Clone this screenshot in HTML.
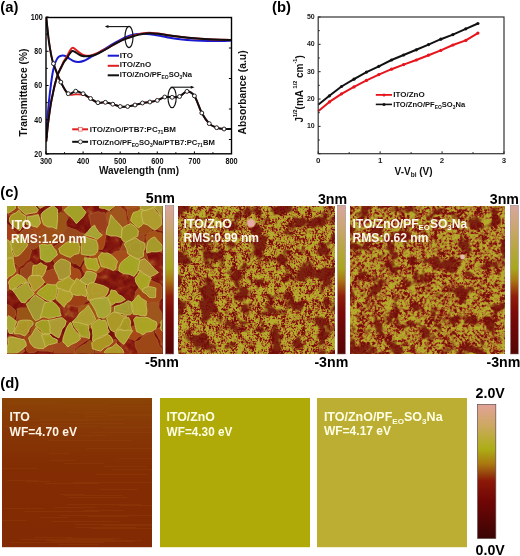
<!DOCTYPE html>
<html><head><meta charset="utf-8"><title>Figure</title>
<style>
html,body{margin:0;padding:0;background:#fff;}
body{width:520px;height:556px;overflow:hidden;}
svg{display:block;}
text{font-family:"Liberation Sans",Arial,sans-serif;font-weight:bold;}
.lab{font-size:14.8px;fill:#000;}
.tk{font-size:8.3px;fill:#111;}
.tk2{font-size:7.3px;fill:#222;}
.axl{font-size:10px;fill:#111;}
.axl2{font-size:9.3px;fill:#111;}
.axl3{font-size:9.3px;fill:#111;}
.lg{font-size:8px;fill:#111;}
.sub{font-size:65%;}
.sub2{font-size:65%;}
.sup{font-size:55%;}
.cb{font-size:14.2px;fill:#000;}
.wl{font-size:12.3px;fill:#fff8ee;}
.wd{font-size:12.3px;fill:#fff4e6;}
.wd2{font-size:12.3px;fill:#ffffe6;}
</style></head>
<body>
<svg width="520" height="556" viewBox="0 0 520 556">
<rect width="520" height="556" fill="#fff"/>
<g id="pa">
<text x="0.3" y="12" class="lab">(a)</text>
<clipPath id="clipa"><rect x="46" y="17" width="185.5" height="137"/></clipPath>
<g clip-path="url(#clipa)" fill="none" stroke-linejoin="round" stroke-linecap="round">
<path d="M46.30,134.00 C46.50,131.33 47.05,123.50 47.50,118.00 C47.95,112.50 48.42,106.67 49.00,101.00 C49.58,95.33 50.33,89.00 51.00,84.00 C51.67,79.00 52.25,74.67 53.00,71.00 C53.75,67.33 54.58,64.33 55.50,62.00 C56.42,59.67 57.33,58.08 58.50,57.00 C59.67,55.92 61.17,55.58 62.50,55.50 C63.83,55.42 65.25,55.92 66.50,56.50 C67.75,57.08 68.75,58.20 70.00,59.00 C71.25,59.80 72.58,60.80 74.00,61.30 C75.42,61.80 76.83,62.08 78.50,62.00 C80.17,61.92 82.08,61.55 84.00,60.80 C85.92,60.05 87.72,58.75 90.00,57.50 C92.28,56.25 94.87,54.97 97.70,53.30 C100.53,51.63 103.78,49.43 107.00,47.50 C110.22,45.57 114.00,43.40 117.00,41.70 C120.00,40.00 122.17,38.50 125.00,37.30 C127.83,36.10 131.17,35.08 134.00,34.50 C136.83,33.92 139.33,33.85 142.00,33.80 C144.67,33.75 147.00,33.87 150.00,34.20 C153.00,34.53 156.67,35.20 160.00,35.80 C163.33,36.40 166.67,37.22 170.00,37.80 C173.33,38.38 175.83,38.85 180.00,39.30 C184.17,39.75 190.33,40.22 195.00,40.50 C199.67,40.78 203.83,40.92 208.00,41.00 C212.17,41.08 216.08,41.07 220.00,41.00 C223.92,40.93 229.58,40.67 231.50,40.60" stroke="#1a1ad0" stroke-width="2"/>
<path d="M46.30,141.00 C46.58,138.17 47.28,130.00 48.00,124.00 C48.72,118.00 49.77,110.17 50.60,105.00 C51.43,99.83 52.27,96.50 53.00,93.00 C53.73,89.50 54.17,87.17 55.00,84.00 C55.83,80.83 56.93,76.92 58.00,74.00 C59.07,71.08 60.40,68.67 61.40,66.50 C62.40,64.33 63.10,62.67 64.00,61.00 C64.90,59.33 65.88,58.08 66.80,56.50 C67.72,54.92 68.63,52.92 69.50,51.50 C70.37,50.08 71.17,48.48 72.00,48.00 C72.83,47.52 73.50,48.02 74.50,48.60 C75.50,49.18 76.75,50.52 78.00,51.50 C79.25,52.48 80.67,53.78 82.00,54.50 C83.33,55.22 84.33,55.68 86.00,55.80 C87.67,55.92 90.00,55.70 92.00,55.20 C94.00,54.70 96.00,53.67 98.00,52.80 C100.00,51.93 102.00,51.03 104.00,50.00 C106.00,48.97 107.83,47.80 110.00,46.60 C112.17,45.40 114.67,44.03 117.00,42.80 C119.33,41.57 121.67,40.25 124.00,39.20 C126.33,38.15 128.67,37.30 131.00,36.50 C133.33,35.70 135.50,34.98 138.00,34.40 C140.50,33.82 143.67,33.25 146.00,33.00 C148.33,32.75 150.00,32.82 152.00,32.90 C154.00,32.98 155.33,33.12 158.00,33.50 C160.67,33.88 164.50,34.68 168.00,35.20 C171.50,35.72 174.67,36.10 179.00,36.60 C183.33,37.10 189.10,37.77 194.00,38.20 C198.90,38.63 204.07,38.95 208.40,39.20 C212.73,39.45 216.15,39.57 220.00,39.70 C223.85,39.83 229.58,39.95 231.50,40.00" stroke="#e02020" stroke-width="2"/>
<path d="M46.30,141.00 C46.58,138.17 47.28,130.00 48.00,124.00 C48.72,118.00 49.77,110.17 50.60,105.00 C51.43,99.83 52.27,96.50 53.00,93.00 C53.73,89.50 54.17,87.17 55.00,84.00 C55.83,80.83 56.93,76.83 58.00,74.00 C59.07,71.17 60.40,69.00 61.40,67.00 C62.40,65.00 63.10,63.43 64.00,62.00 C64.90,60.57 65.88,59.73 66.80,58.40 C67.72,57.07 68.60,55.23 69.50,54.00 C70.40,52.77 71.28,51.37 72.20,51.00 C73.12,50.63 73.95,51.27 75.00,51.80 C76.05,52.33 77.28,53.50 78.50,54.20 C79.72,54.90 80.72,55.67 82.30,56.00 C83.88,56.33 86.08,56.33 88.00,56.20 C89.92,56.07 91.80,55.82 93.80,55.20 C95.80,54.58 97.75,53.62 100.00,52.50 C102.25,51.38 104.97,49.87 107.30,48.50 C109.63,47.13 111.75,45.58 114.00,44.30 C116.25,43.02 118.63,41.80 120.80,40.80 C122.97,39.80 124.77,39.10 127.00,38.30 C129.23,37.50 131.87,36.67 134.20,36.00 C136.53,35.33 138.43,34.77 141.00,34.30 C143.57,33.83 146.77,33.28 149.60,33.20 C152.43,33.12 154.93,33.45 158.00,33.80 C161.07,34.15 164.50,34.82 168.00,35.30 C171.50,35.78 174.67,36.20 179.00,36.70 C183.33,37.20 189.10,37.87 194.00,38.30 C198.90,38.73 204.07,39.05 208.40,39.30 C212.73,39.55 216.15,39.68 220.00,39.80 C223.85,39.92 229.58,39.97 231.50,40.00" stroke="#101010" stroke-width="2"/>
<path d="M46.30,17.20 C46.50,19.17 47.05,24.87 47.50,29.00 C47.95,33.13 48.42,37.83 49.00,42.00 C49.58,46.17 50.26,50.40 51.00,54.00 C51.74,57.60 51.78,58.92 53.42,63.60 C55.06,68.28 58.37,77.00 60.84,82.10 C63.31,87.20 65.79,92.17 68.26,94.20 C70.73,96.23 73.21,94.20 75.68,94.30 C78.15,94.40 80.63,94.10 83.10,94.80 C85.57,95.50 88.05,97.18 90.52,98.50 C92.99,99.82 95.47,102.07 97.94,102.70 C100.41,103.33 102.89,102.05 105.36,102.30 C107.83,102.55 110.31,103.50 112.78,104.20 C115.25,104.90 117.73,106.12 120.20,106.50 C122.67,106.88 125.15,106.75 127.62,106.50 C130.09,106.25 132.57,105.58 135.04,105.00 C137.51,104.42 139.99,103.50 142.46,103.00 C144.93,102.50 147.41,102.43 149.88,102.00 C152.35,101.57 154.83,101.23 157.30,100.40 C159.77,99.57 162.25,97.52 164.72,97.00 C167.19,96.48 169.67,97.38 172.14,97.30 C174.61,97.22 177.09,97.48 179.56,96.50 C182.03,95.52 184.51,91.50 186.98,91.40 C189.45,91.30 191.93,92.30 194.40,95.90 C196.87,99.50 199.35,108.38 201.82,113.00 C204.29,117.62 206.77,121.15 209.24,123.60 C211.71,126.05 214.19,126.80 216.66,127.70 C219.13,128.60 221.61,128.78 224.08,129.00 C226.55,129.22 230.26,129.00 231.50,129.00" stroke="#e02020" stroke-width="1.7"/>
<path d="M46.30,17.20 C46.50,19.17 47.05,24.87 47.50,29.00 C47.95,33.13 48.42,37.83 49.00,42.00 C49.58,46.17 50.26,50.40 51.00,54.00 C51.74,57.60 51.78,58.92 53.42,63.60 C55.06,68.28 58.37,77.08 60.84,82.10 C63.31,87.12 65.79,92.18 68.26,93.70 C70.73,95.22 73.21,91.20 75.68,91.20 C78.15,91.20 80.63,92.48 83.10,93.70 C85.57,94.92 88.05,97.00 90.52,98.50 C92.99,100.00 95.47,102.07 97.94,102.70 C100.41,103.33 102.89,102.05 105.36,102.30 C107.83,102.55 110.31,103.50 112.78,104.20 C115.25,104.90 117.73,106.12 120.20,106.50 C122.67,106.88 125.15,106.75 127.62,106.50 C130.09,106.25 132.57,105.58 135.04,105.00 C137.51,104.42 139.99,103.50 142.46,103.00 C144.93,102.50 147.41,102.43 149.88,102.00 C152.35,101.57 154.83,101.23 157.30,100.40 C159.77,99.57 162.25,97.52 164.72,97.00 C167.19,96.48 169.67,97.38 172.14,97.30 C174.61,97.22 177.09,97.48 179.56,96.50 C182.03,95.52 184.51,91.50 186.98,91.40 C189.45,91.30 191.93,92.30 194.40,95.90 C196.87,99.50 199.35,108.38 201.82,113.00 C204.29,117.62 206.77,121.15 209.24,123.60 C211.71,126.05 214.19,126.80 216.66,127.70 C219.13,128.60 221.61,128.78 224.08,129.00 C226.55,129.22 230.26,129.00 231.50,129.00" stroke="#101010" stroke-width="2"/>
</g>
<circle cx="53.42" cy="63.60" r="1.95" fill="#fff" stroke="#222" stroke-width="1"/>
<circle cx="60.84" cy="82.10" r="1.95" fill="#fff" stroke="#222" stroke-width="1"/>
<circle cx="68.26" cy="93.70" r="1.95" fill="#fff" stroke="#222" stroke-width="1"/>
<circle cx="75.68" cy="91.20" r="1.95" fill="#fff" stroke="#222" stroke-width="1"/>
<circle cx="83.10" cy="93.70" r="1.95" fill="#fff" stroke="#222" stroke-width="1"/>
<circle cx="90.52" cy="98.50" r="1.95" fill="#fff" stroke="#222" stroke-width="1"/>
<circle cx="97.94" cy="102.70" r="1.95" fill="#fff" stroke="#222" stroke-width="1"/>
<circle cx="105.36" cy="102.30" r="1.95" fill="#fff" stroke="#222" stroke-width="1"/>
<circle cx="112.78" cy="104.20" r="1.95" fill="#fff" stroke="#222" stroke-width="1"/>
<circle cx="120.20" cy="106.50" r="1.95" fill="#fff" stroke="#222" stroke-width="1"/>
<circle cx="127.62" cy="106.50" r="1.95" fill="#fff" stroke="#222" stroke-width="1"/>
<circle cx="135.04" cy="105.00" r="1.95" fill="#fff" stroke="#222" stroke-width="1"/>
<circle cx="142.46" cy="103.00" r="1.95" fill="#fff" stroke="#222" stroke-width="1"/>
<circle cx="149.88" cy="102.00" r="1.95" fill="#fff" stroke="#222" stroke-width="1"/>
<circle cx="157.30" cy="100.40" r="1.95" fill="#fff" stroke="#222" stroke-width="1"/>
<circle cx="164.72" cy="97.00" r="1.95" fill="#fff" stroke="#222" stroke-width="1"/>
<circle cx="172.14" cy="97.30" r="1.95" fill="#fff" stroke="#222" stroke-width="1"/>
<circle cx="179.56" cy="96.50" r="1.95" fill="#fff" stroke="#222" stroke-width="1"/>
<circle cx="186.98" cy="91.40" r="1.95" fill="#fff" stroke="#222" stroke-width="1"/>
<circle cx="194.40" cy="95.90" r="1.95" fill="#fff" stroke="#222" stroke-width="1"/>
<circle cx="201.82" cy="113.00" r="1.95" fill="#fff" stroke="#222" stroke-width="1"/>
<circle cx="209.24" cy="123.60" r="1.95" fill="#fff" stroke="#222" stroke-width="1"/>
<circle cx="216.66" cy="127.70" r="1.95" fill="#fff" stroke="#222" stroke-width="1"/>
<circle cx="224.08" cy="129.00" r="1.95" fill="#fff" stroke="#222" stroke-width="1"/>
<rect x="46" y="17.5" width="185.5" height="136.3" fill="none" stroke="#000" stroke-width="1.4"/>
<path d="M46.00,154.0 v-2.6 M64.55,154.0 v-1.8 M83.10,154.0 v-2.6 M101.65,154.0 v-1.8 M120.20,154.0 v-2.6 M138.75,154.0 v-1.8 M157.30,154.0 v-2.6 M175.85,154.0 v-1.8 M194.40,154.0 v-2.6 M212.95,154.0 v-1.8 M231.50,154.0 v-2.6 M46.0,154.00 h2.6 M46.0,136.88 h1.8 M46.0,119.75 h2.6 M46.0,102.62 h1.8 M46.0,85.50 h2.6 M46.0,68.38 h1.8 M46.0,51.25 h2.6 M46.0,34.12 h1.8 M46.0,17.00 h2.6 M231.5,48 h-2.6 M231.5,78.5 h-2.6 M231.5,109 h-2.6 M231.5,139.5 h-2.6" stroke="#000" stroke-width="1" fill="none"/>
<text x="39.90" y="163.7" class="tk" textLength="12.3" lengthAdjust="spacingAndGlyphs">300</text>
<text x="77.00" y="163.7" class="tk" textLength="12.3" lengthAdjust="spacingAndGlyphs">400</text>
<text x="114.10" y="163.7" class="tk" textLength="12.3" lengthAdjust="spacingAndGlyphs">500</text>
<text x="151.20" y="163.7" class="tk" textLength="12.3" lengthAdjust="spacingAndGlyphs">600</text>
<text x="188.30" y="163.7" class="tk" textLength="12.3" lengthAdjust="spacingAndGlyphs">700</text>
<text x="225.40" y="163.7" class="tk" textLength="12.3" lengthAdjust="spacingAndGlyphs">800</text>
<text x="34.30" y="156.80" class="tk" textLength="7.8" lengthAdjust="spacingAndGlyphs">20</text>
<text x="34.30" y="122.55" class="tk" textLength="7.8" lengthAdjust="spacingAndGlyphs">40</text>
<text x="34.30" y="88.30" class="tk" textLength="7.8" lengthAdjust="spacingAndGlyphs">60</text>
<text x="34.30" y="54.05" class="tk" textLength="7.8" lengthAdjust="spacingAndGlyphs">80</text>
<text x="30.80" y="19.80" class="tk" textLength="12.1" lengthAdjust="spacingAndGlyphs">100</text>
<text x="139" y="174.3" class="axl" text-anchor="middle">Wavelength (nm)</text>
<text transform="translate(26.7,92.5) rotate(-90)" class="axl" text-anchor="middle" style="font-size:10.2px">Transmittance (%)</text>
<text transform="translate(246.1,92.5) rotate(-90)" class="axl2" text-anchor="middle" style="font-size:10.3px">Absorbance (a.u)</text>
<ellipse cx="129" cy="37" rx="4" ry="10.6" fill="none" stroke="#111" stroke-width="1.15"/>
<path d="M129.2,26.6 H106.5" stroke="#111" stroke-width="1.1" fill="none"/>
<path d="M104.8,26.6 l3.6,-1.5 v3 z" fill="#111"/>
<ellipse cx="172.1" cy="97.5" rx="4.1" ry="10.2" fill="none" stroke="#111" stroke-width="1.15"/>
<path d="M170.8,87.2 H192.5" stroke="#111" stroke-width="1.1" fill="none"/>
<path d="M194.4,87.2 l-3.6,-1.5 v3 z" fill="#111"/>
<path d="M107.7,55.7 H119" stroke="#1a1ad0" stroke-width="2"/>
<path d="M107.7,65.8 H119" stroke="#e02020" stroke-width="2"/>
<path d="M107.7,75.3 H119" stroke="#101010" stroke-width="2"/>
<text x="119.8" y="57.5" class="lg">ITO</text>
<text x="119.8" y="67.4" class="lg">ITO/ZnO</text>
<text x="119.8" y="77.2" class="lg" textLength="72.3" lengthAdjust="spacingAndGlyphs">ITO/ZnO/PF<tspan class="sub" dy="2">EO</tspan><tspan dy="-2">SO</tspan><tspan class="sub" dy="2">3</tspan><tspan dy="-2">Na</tspan></text>
<path d="M72.2,129.3 H88" stroke="#e02020" stroke-width="2"/>
<rect x="78.6" y="127.5" width="3.6" height="3.6" fill="#fff4f2" stroke="#e04040" stroke-width="0.6"/>
<path d="M72.2,141.8 H88" stroke="#101010" stroke-width="2"/>
<circle cx="80.4" cy="141.8" r="2" fill="#fff" stroke="#222" stroke-width="0.8"/>
<text x="89.8" y="131.8" class="lg">ITO/ZnO/PTB7:PC<tspan class="sub" dy="2">71</tspan><tspan dy="-2">BM</tspan></text>
<text x="89.8" y="144.6" class="lg" textLength="125" lengthAdjust="spacingAndGlyphs">ITO/ZnO/PF<tspan class="sub" dy="2">EO</tspan><tspan dy="-2">SO</tspan><tspan class="sub" dy="2">3</tspan><tspan dy="-2">Na/PTB7:PC</tspan><tspan class="sub" dy="2">71</tspan><tspan dy="-2">BM</tspan></text>
</g>
<g id="pb">
<text x="272" y="12" class="lab">(b)</text>
<polyline points="318.2,111.2 329.4,101.9 341.5,93.8 354,86.9 366.5,80.4 378.8,74.6 391.5,69.2 403.6,64.6 416.3,60 428.5,55.2 440.8,50.4 452.9,45 465.8,40.4 477.9,33.1" fill="none" stroke="#e8141c" stroke-width="2" stroke-linejoin="round"/>
<polyline points="318.2,104.8 329.4,95.8 341.5,86.5 354,79.2 366.5,72.1 378.8,66.3 391.5,60 403.6,55 416.3,49.8 428.5,44.6 440.8,39.2 452.9,34.6 465.8,28.8 477.9,23.5" fill="none" stroke="#111" stroke-width="2" stroke-linejoin="round"/>
<circle cx="329.4" cy="101.9" r="1.6" fill="#e8141c"/>
<circle cx="341.5" cy="93.8" r="1.6" fill="#e8141c"/>
<circle cx="354" cy="86.9" r="1.6" fill="#e8141c"/>
<circle cx="366.5" cy="80.4" r="1.6" fill="#e8141c"/>
<circle cx="378.8" cy="74.6" r="1.6" fill="#e8141c"/>
<circle cx="391.5" cy="69.2" r="1.6" fill="#e8141c"/>
<circle cx="403.6" cy="64.6" r="1.6" fill="#e8141c"/>
<circle cx="416.3" cy="60" r="1.6" fill="#e8141c"/>
<circle cx="428.5" cy="55.2" r="1.6" fill="#e8141c"/>
<circle cx="440.8" cy="50.4" r="1.6" fill="#e8141c"/>
<circle cx="452.9" cy="45" r="1.6" fill="#e8141c"/>
<circle cx="465.8" cy="40.4" r="1.6" fill="#e8141c"/>
<circle cx="477.9" cy="33.1" r="1.6" fill="#e8141c"/>
<circle cx="329.4" cy="95.8" r="1.6" fill="#111"/>
<circle cx="341.5" cy="86.5" r="1.6" fill="#111"/>
<circle cx="354" cy="79.2" r="1.6" fill="#111"/>
<circle cx="366.5" cy="72.1" r="1.6" fill="#111"/>
<circle cx="378.8" cy="66.3" r="1.6" fill="#111"/>
<circle cx="391.5" cy="60" r="1.6" fill="#111"/>
<circle cx="403.6" cy="55" r="1.6" fill="#111"/>
<circle cx="416.3" cy="49.8" r="1.6" fill="#111"/>
<circle cx="428.5" cy="44.6" r="1.6" fill="#111"/>
<circle cx="440.8" cy="39.2" r="1.6" fill="#111"/>
<circle cx="452.9" cy="34.6" r="1.6" fill="#111"/>
<circle cx="465.8" cy="28.8" r="1.6" fill="#111"/>
<circle cx="477.9" cy="23.5" r="1.6" fill="#111"/>
<rect x="318.2" y="17.0" width="185.80" height="136.70" fill="none" stroke="#333" stroke-width="1.2"/>
<path d="M318.20,153.7 v-2.4 M349.17,153.7 v-1.6 M380.13,153.7 v-2.4 M411.10,153.7 v-1.6 M442.07,153.7 v-2.4 M473.03,153.7 v-1.6 M504.00,153.7 v-2.4 M318.2,153.70 h2.4 M318.2,140.03 h1.6 M318.2,126.36 h2.4 M318.2,112.69 h1.6 M318.2,99.02 h2.4 M318.2,85.35 h1.6 M318.2,71.68 h2.4 M318.2,58.01 h1.6 M318.2,44.34 h2.4 M318.2,30.67 h1.6 M318.2,17.00 h2.4" stroke="#222" stroke-width="1" fill="none"/>
<text x="316.00" y="163.1" class="tk2" textLength="4.4" lengthAdjust="spacingAndGlyphs">0</text>
<text x="377.93" y="163.1" class="tk2" textLength="4.4" lengthAdjust="spacingAndGlyphs">1</text>
<text x="439.87" y="163.1" class="tk2" textLength="4.4" lengthAdjust="spacingAndGlyphs">2</text>
<text x="501.80" y="163.1" class="tk2" textLength="4.4" lengthAdjust="spacingAndGlyphs">3</text>
<text x="306.90" y="128.46" class="tk2" textLength="7.8" lengthAdjust="spacingAndGlyphs">10</text>
<text x="306.90" y="101.12" class="tk2" textLength="7.8" lengthAdjust="spacingAndGlyphs">20</text>
<text x="306.90" y="73.78" class="tk2" textLength="7.8" lengthAdjust="spacingAndGlyphs">30</text>
<text x="306.90" y="46.44" class="tk2" textLength="7.8" lengthAdjust="spacingAndGlyphs">40</text>
<text x="306.90" y="19.10" class="tk2" textLength="7.8" lengthAdjust="spacingAndGlyphs">50</text>
<text x="394.6" y="174.6" class="axl">V-V<tspan class="sub2" dy="2.6">bi</tspan><tspan dy="-2.6"> (V)</tspan></text>
<text transform="translate(303.3,122.6) rotate(-90)" class="axl3" style="font-size:10px">J<tspan class="sup" dy="-6">1/2</tspan><tspan dy="6">(mA</tspan><tspan class="sup" dy="-6"> 1/2</tspan><tspan dy="6"> cm</tspan><tspan class="sup" dy="-6">-1</tspan><tspan dy="6">)</tspan></text>
<path d="M375.8,94.9 H392" stroke="#e8141c" stroke-width="1.8"/><circle cx="384" cy="94.9" r="1.5" fill="#e8141c"/>
<path d="M375.8,104.4 H392" stroke="#111" stroke-width="1.6"/><circle cx="384" cy="104.4" r="1.5" fill="#111"/>
<text x="393.3" y="96.8" class="lg">ITO/ZnO</text>
<text x="393.3" y="106.5" class="lg" textLength="71.8" lengthAdjust="spacingAndGlyphs">ITO/ZnO/PF<tspan class="sub" dy="2">EO</tspan><tspan dy="-2">SO</tspan><tspan class="sub" dy="2">3</tspan><tspan dy="-2">Na</tspan></text>
</g>
<defs>
<filter id="f2" x="0" y="0" width="100%" height="100%" color-interpolation-filters="sRGB">
<feTurbulence type="fractalNoise" baseFrequency="0.55" numOctaves="2" seed="3" result="n1"/>
<feTurbulence type="fractalNoise" baseFrequency="0.16" numOctaves="2" seed="10" result="n1b"/>
<feComposite in="n1" in2="n1b" operator="arithmetic" k1="0" k2="0.55" k3="0.45" k4="0" result="n1c"/>
<feColorMatrix in="n1c" type="matrix" values="4.2 0 0 0 -1.47  4.2 0 0 0 -1.47  4.2 0 0 0 -1.47  0 0 0 0 1" result="g1"/>
<feComponentTransfer in="g1" result="sp">
<feFuncR type="table" tableValues="0.463 0.486 0.510 0.533 0.557 0.588 0.616 0.643 0.675 0.678 0.682 0.686 0.690 0.694 0.698 0.702 0.706"/>
<feFuncG type="table" tableValues="0.055 0.075 0.094 0.114 0.133 0.196 0.263 0.329 0.392 0.439 0.490 0.541 0.588 0.612 0.631 0.651 0.675"/>
<feFuncB type="table" tableValues="0.047 0.055 0.059 0.063 0.071 0.094 0.114 0.133 0.157 0.161 0.165 0.169 0.173 0.173 0.169 0.165 0.165"/>
</feComponentTransfer>
<feTurbulence type="fractalNoise" baseFrequency="0.06" numOctaves="3" seed="11" result="n2"/>
<feColorMatrix in="n2" type="matrix" values="0 0 0 0 0.439  0 0 0 0 0.047  0 0 0 0 0.039  -7 0 0 0 3.35" result="m0"/>
<feComponentTransfer in="m0" result="m"><feFuncA type="linear" slope="0.85" intercept="0"/></feComponentTransfer>
<feComposite in="m" in2="sp" operator="over" result="c"/>
<feGaussianBlur in="c" stdDeviation="0.5"/>
</filter>
<filter id="f3" x="0" y="0" width="100%" height="100%" color-interpolation-filters="sRGB">
<feTurbulence type="fractalNoise" baseFrequency="0.4" numOctaves="2" seed="5" result="n1"/>
<feTurbulence type="fractalNoise" baseFrequency="0.12" numOctaves="2" seed="12" result="n1b"/>
<feComposite in="n1" in2="n1b" operator="arithmetic" k1="0" k2="0.55" k3="0.45" k4="0" result="n1c"/>
<feColorMatrix in="n1c" type="matrix" values="3.6 0 0 0 -1.22  3.6 0 0 0 -1.22  3.6 0 0 0 -1.22  0 0 0 0 1" result="g1"/>
<feComponentTransfer in="g1" result="sp">
<feFuncR type="table" tableValues="0.463 0.486 0.510 0.533 0.557 0.588 0.616 0.643 0.675 0.678 0.682 0.686 0.690 0.694 0.698 0.702 0.706"/>
<feFuncG type="table" tableValues="0.055 0.075 0.094 0.114 0.133 0.196 0.263 0.329 0.392 0.439 0.490 0.541 0.588 0.612 0.631 0.651 0.675"/>
<feFuncB type="table" tableValues="0.047 0.055 0.059 0.063 0.071 0.094 0.114 0.133 0.157 0.161 0.165 0.169 0.173 0.173 0.169 0.165 0.165"/>
</feComponentTransfer>
<feTurbulence type="fractalNoise" baseFrequency="0.07" numOctaves="3" seed="21" result="n2"/>
<feColorMatrix in="n2" type="matrix" values="0 0 0 0 0.451  0 0 0 0 0.055  0 0 0 0 0.039  -7 0 0 0 3.3" result="m0"/>
<feComponentTransfer in="m0" result="m"><feFuncA type="linear" slope="0.85" intercept="0"/></feComponentTransfer>
<feComposite in="m" in2="sp" operator="over" result="c"/>
<feGaussianBlur in="c" stdDeviation="0.75"/>
</filter>
<filter id="f1" x="0" y="0" width="100%" height="100%" color-interpolation-filters="sRGB">
<feTurbulence type="fractalNoise" baseFrequency="0.15" numOctaves="2" seed="7" result="n1"/>
<feTurbulence type="fractalNoise" baseFrequency="0.05" numOctaves="3" seed="31" result="n2"/>
<feComposite in="n1" in2="n2" operator="arithmetic" k1="0" k2="0.5" k3="0.5" k4="0" result="m"/>
<feColorMatrix in="m" type="matrix" values="1.2 0 0 0 -0.45  1.2 0 0 0 -0.45  1.2 0 0 0 -0.45  0 0 0 0 1" result="g"/>
<feComponentTransfer in="g">
<feFuncR type="table" tableValues="0.463 0.486 0.510 0.533 0.557 0.588 0.616 0.643 0.675 0.678 0.682 0.686 0.690 0.694 0.698 0.702 0.706"/>
<feFuncG type="table" tableValues="0.055 0.075 0.094 0.114 0.133 0.196 0.263 0.329 0.392 0.439 0.490 0.541 0.588 0.612 0.631 0.651 0.675"/>
<feFuncB type="table" tableValues="0.047 0.055 0.059 0.063 0.071 0.094 0.114 0.133 0.157 0.161 0.165 0.169 0.173 0.173 0.169 0.165 0.165"/>
</feComponentTransfer>
<feGaussianBlur stdDeviation="0.6"/>
</filter>
<filter id="ftex" x="0" y="0" width="100%" height="100%" color-interpolation-filters="sRGB"><feTurbulence type="fractalNoise" baseFrequency="0.5" numOctaves="2" seed="9"/><feColorMatrix type="matrix" values="0 0 0 0 0  0 0 0 0 0  0 0 0 0 0  3 0 0 0 -1.2"/></filter>
<linearGradient id="cb" x1="0" y1="0" x2="0" y2="1"><stop offset="0.000" stop-color="#e2a298"/><stop offset="0.150" stop-color="#cda864"/><stop offset="0.330" stop-color="#acae16"/><stop offset="0.440" stop-color="#aa7a10"/><stop offset="0.510" stop-color="#98480e"/><stop offset="0.570" stop-color="#8c1808"/><stop offset="0.720" stop-color="#700605"/><stop offset="1.000" stop-color="#3a0404"/></linearGradient>
<linearGradient id="cbc" x1="0" y1="0" x2="0" y2="1"><stop offset="0.000" stop-color="#d8a69e"/><stop offset="0.150" stop-color="#caa670"/><stop offset="0.300" stop-color="#b6a63e"/><stop offset="0.420" stop-color="#a8a81e"/><stop offset="0.500" stop-color="#aa7a14"/><stop offset="0.550" stop-color="#a0500f"/><stop offset="0.610" stop-color="#911e0a"/><stop offset="0.720" stop-color="#7c0a08"/><stop offset="1.000" stop-color="#540505"/></linearGradient>
</defs>
<text x="0.3" y="196.5" class="lab">(c)</text>
<rect x="7" y="206" width="155.5" height="147.5" filter="url(#f1)"/>
<filter id="fb" x="-5%" y="-5%" width="110%" height="110%"><feGaussianBlur stdDeviation="0.6"/></filter>
<clipPath id="cc1"><rect x="7" y="206" width="155.5" height="147.5"/></clipPath>
<g clip-path="url(#cc1)"><g filter="url(#fb)">
<path d="M25.0,192.0 L28.2,196.0 L31.4,200.0 L34.9,203.6 L39.0,201.1 L42.8,198.1 L41.6,192.7 L42.7,187.2 L42.3,181.7 L42.5,176.3 L41.4,170.9 L37.6,174.7 L35.2,179.6 L31.2,183.3 L27.6,187.3Z" fill="#a64214" stroke="#a85a2a" stroke-width="0.8"/><path d="M6.1,211.6 L9.3,206.9 L13.2,202.6 L15.1,197.1 L18.4,192.4 L14.8,190.1 L11.8,187.0 L8.7,184.1 L6.2,188.8 L5.2,194.1 L2.5,198.6 L0.9,203.6 L-2.1,208.0 L1.5,210.2 L5.4,211.8Z" fill="#a54717" stroke="#a85a2a" stroke-width="0.8"/><path d="M7.5,212.5 L10.1,207.3 L13.3,202.7 L16.6,198.1 L19.8,193.3 L23.3,193.5 L27.3,196.7 L29.4,201.7 L33.2,205.1 L32.3,208.0 L31.8,211.0 L27.5,214.9 L22.5,214.8 L17.4,214.7 L12.6,212.5Z" fill="#9a4115" stroke="#a85a2a" stroke-width="0.8"/><path d="M79.2,195.9 L80.8,201.1 L80.8,206.6 L82.8,211.7 L77.9,213.1 L73.5,215.8 L68.5,216.8 L65.5,214.1 L62.8,211.1 L62.4,206.1 L60.3,201.7 L62.8,197.2 L66.3,193.3 L68.7,188.7 L72.8,190.3 L75.4,193.9Z" fill="#a4531a" stroke="#a85a2a" stroke-width="0.8"/><path d="M145.3,205.0 L143.5,199.9 L143.2,194.5 L138.9,192.6 L135.2,189.6 L131.1,187.3 L127.2,191.2 L123.4,195.2 L120.7,200.0 L120.7,203.4 L124.6,206.0 L127.2,209.8 L131.6,207.9 L136.5,208.1 L140.9,206.6Z" fill="#a3571d" stroke="#a85a2a" stroke-width="0.8"/><path d="M145.9,205.0 L144.6,199.7 L143.8,194.4 L147.7,191.3 L150.7,187.2 L155.4,185.0 L158.7,181.2 L159.7,187.0 L161.3,192.7 L163.5,198.1 L164.9,203.8 L160.6,207.3 L155.8,210.4 L150.8,207.9Z" fill="#985319" stroke="#a85a2a" stroke-width="0.8"/><path d="M4.4,214.5 L0.3,212.7 L-3.7,210.4 L-4.5,210.2 L-9.8,211.4 L-15.0,213.2 L-19.6,216.3 L-24.5,218.8 L-30.1,219.3 L-35.4,220.7 L-40.0,223.8 L-34.2,224.9 L-29.2,228.1 L-23.8,230.3 L-18.4,232.5 L-12.3,232.6 L-6.8,234.5 L-1.6,237.4 L1.5,232.5 L1.7,226.4 L4.6,221.4 L3.7,218.0Z" fill="#a1491b" stroke="#a85a2a" stroke-width="0.8"/><path d="M29.9,217.5 L34.2,213.6 L39.2,216.8 L44.8,218.9 L46.8,222.4 L46.7,226.3 L42.3,230.2 L37.7,234.0 L34.4,231.4 L32.5,227.7 L30.4,224.2 L29.7,220.9Z" fill="#a34914" stroke="#a85a2a" stroke-width="0.8"/><path d="M67.8,218.5 L66.0,222.2 L66.3,226.2 L64.8,230.2 L62.3,233.7 L57.3,231.5 L52.2,229.4 L47.6,226.4 L45.7,222.5 L45.5,218.1 L50.4,215.1 L56.2,214.2 L61.6,212.2 L65.3,214.7Z" fill="#9a5418" stroke="#a85a2a" stroke-width="0.8"/><path d="M98.4,211.5 L93.5,213.1 L88.6,214.9 L90.0,218.8 L90.4,222.9 L91.4,226.9 L96.2,229.2 L101.3,231.0 L106.3,233.0 L108.4,230.9 L107.2,226.4 L107.2,221.7 L106.4,217.1 L104.6,212.7 L101.4,212.9Z" fill="#9a401d" stroke="#a85a2a" stroke-width="0.8"/><path d="M106.5,212.4 L111.4,211.1 L114.9,207.2 L119.6,205.5 L122.6,208.4 L125.6,211.3 L126.4,216.8 L126.2,222.4 L128.1,227.7 L125.7,228.7 L120.7,230.4 L115.4,230.3 L110.2,230.5 L109.5,225.9 L107.3,221.6 L106.8,217.0Z" fill="#9f541b" stroke="#a85a2a" stroke-width="0.8"/><path d="M145.5,205.7 L140.8,206.4 L136.2,207.2 L131.8,208.8 L127.4,210.4 L127.5,215.0 L129.2,219.3 L130.2,223.7 L130.1,228.2 L134.6,231.0 L139.9,231.9 L144.3,234.8 L149.3,232.6 L153.2,228.8 L154.2,222.9 L154.3,216.9 L155.4,211.1 L151.0,207.5Z" fill="#9a4b14" stroke="#a85a2a" stroke-width="0.8"/><path d="M156.8,211.5 L161.7,208.9 L165.6,205.1 L165.9,205.1 L171.4,207.2 L176.2,211.0 L181.8,212.9 L180.6,217.8 L180.4,222.9 L175.7,224.6 L170.9,226.0 L166.9,229.2 L162.3,231.1 L158.4,230.0 L154.7,228.6 L155.9,223.0 L156.9,217.3Z" fill="#9d4f16" stroke="#a85a2a" stroke-width="0.8"/><path d="M5.3,221.6 L4.1,227.3 L0.6,232.1 L-1.0,237.7 L2.0,242.6 L2.8,248.3 L8.2,247.1 L12.6,243.8 L17.6,241.6 L18.1,235.7 L14.7,232.3 L12.1,228.3 L8.5,225.1Z" fill="#a34019" stroke="#a85a2a" stroke-width="0.8"/><path d="M18.5,235.7 L19.3,238.9 L18.0,241.8 L23.1,244.3 L28.1,247.3 L33.4,249.6 L36.0,247.9 L38.4,246.0 L36.8,240.7 L37.2,235.1 L34.7,231.3 L31.2,228.2 L29.0,224.1 L26.0,228.5 L21.3,231.3Z" fill="#9b491b" stroke="#a85a2a" stroke-width="0.8"/><path d="M61.5,233.8 L57.2,230.9 L52.2,229.3 L47.5,226.9 L44.2,229.4 L40.7,231.7 L38.0,235.0 L38.1,240.2 L39.1,245.2 L44.3,246.1 L49.6,246.3 L53.3,243.9 L57.3,242.0 L61.1,239.6Z" fill="#9e5117" stroke="#a85a2a" stroke-width="0.8"/><path d="M66.9,226.6 L71.6,228.5 L76.3,230.0 L80.5,233.0 L85.5,234.1 L85.4,238.9 L84.7,243.7 L79.4,243.3 L74.2,243.9 L69.0,245.0 L65.8,242.5 L62.7,239.9 L63.0,233.9 L65.4,230.5Z" fill="#98481c" stroke="#a85a2a" stroke-width="0.8"/><path d="M86.3,234.2 L88.8,231.3 L90.7,228.0 L95.7,230.5 L101.0,232.4 L106.2,234.4 L105.2,239.4 L104.6,244.5 L102.7,249.3 L97.6,249.9 L92.5,249.5 L88.7,246.9 L85.5,243.5 L85.7,238.9Z" fill="#a74718" stroke="#a85a2a" stroke-width="0.8"/><path d="M120.5,250.5 L124.1,252.8 L128.4,253.2 L132.2,254.9 L135.7,251.4 L140.4,249.5 L143.7,245.7 L144.0,244.7 L144.1,240.2 L144.3,235.6 L139.6,232.9 L134.1,232.0 L129.7,228.8 L127.0,230.0 L124.5,234.9 L124.2,240.4 L122.1,245.4Z" fill="#9b481c" stroke="#a85a2a" stroke-width="0.8"/><path d="M154.2,230.6 L157.8,232.4 L161.8,233.0 L164.8,236.5 L167.9,240.1 L170.6,243.9 L168.7,249.0 L167.1,254.2 L161.4,252.5 L156.1,249.9 L151.1,246.7 L145.5,244.9 L146.2,240.6 L145.7,236.3 L149.4,232.6Z" fill="#a35318" stroke="#a85a2a" stroke-width="0.8"/><path d="M7.6,260.8 L5.9,256.0 L3.5,251.6 L4.3,249.3 L8.7,247.0 L13.5,245.5 L17.9,243.1 L22.8,244.9 L27.2,247.7 L31.7,250.1 L30.4,254.7 L29.1,259.3 L25.6,261.6 L22.9,264.9 L19.1,266.8 L15.8,263.8 L11.2,263.2Z" fill="#9c4414" stroke="#a85a2a" stroke-width="0.8"/><path d="M62.0,240.8 L58.5,243.7 L54.6,246.1 L50.2,247.6 L51.9,252.4 L52.1,257.5 L54.1,262.2 L55.3,267.0 L57.8,268.1 L62.3,267.6 L66.4,265.5 L70.5,263.7 L70.1,257.7 L69.7,251.7 L68.4,245.9 L65.6,242.8Z" fill="#9d4418" stroke="#a85a2a" stroke-width="0.8"/><path d="M70.0,246.5 L70.8,251.9 L71.0,257.4 L72.0,262.7 L76.3,264.0 L79.9,266.7 L81.9,262.3 L84.7,258.3 L87.6,254.5 L90.7,250.8 L88.2,247.2 L84.2,245.3 L79.6,246.8 L74.8,246.8Z" fill="#9a4a14" stroke="#a85a2a" stroke-width="0.8"/><path d="M100.3,272.0 L94.9,272.9 L89.5,271.9 L84.2,272.9 L81.8,268.1 L83.9,263.6 L87.5,260.2 L89.8,256.0 L92.6,252.1 L97.4,251.8 L102.2,252.0 L105.0,255.2 L105.1,259.4 L107.4,263.2 L107.4,267.4 L103.3,268.9Z" fill="#a64f14" stroke="#a85a2a" stroke-width="0.8"/><path d="M129.4,268.1 L130.8,263.9 L130.2,259.4 L131.7,255.2 L126.5,252.1 L120.5,251.0 L116.0,251.2 L112.1,254.0 L107.5,254.2 L108.8,258.5 L110.3,262.8 L110.0,267.4 L114.5,270.3 L119.6,270.3 L124.6,269.8Z" fill="#a74d1a" stroke="#a85a2a" stroke-width="0.8"/><path d="M142.0,278.0 L144.0,277.3 L147.0,273.4 L148.3,268.7 L150.1,264.2 L148.1,260.0 L146.9,255.5 L144.1,251.5 L143.6,246.8 L139.7,249.2 L136.1,252.2 L132.8,255.5 L132.3,259.8 L130.5,263.9 L130.6,268.3 L134.0,272.0 L138.4,274.4Z" fill="#994115" stroke="#a85a2a" stroke-width="0.8"/><path d="M5.4,291.8 L9.4,289.5 L12.4,286.0 L16.0,283.3 L18.8,279.7 L18.1,274.6 L17.8,269.5 L13.4,268.5 L10.4,264.8 L6.2,263.4 L3.2,267.9 L-0.7,271.7 L1.1,277.4 L0.6,283.5 L2.3,289.1Z" fill="#a24316" stroke="#a85a2a" stroke-width="0.8"/><path d="M31.0,284.4 L26.7,281.5 L21.9,279.4 L20.5,274.4 L20.8,269.2 L24.6,267.3 L27.0,263.4 L30.9,261.7 L34.9,264.9 L39.6,267.1 L43.0,271.2 L41.4,275.5 L40.1,279.9 L35.2,281.4Z" fill="#99451b" stroke="#a85a2a" stroke-width="0.8"/><path d="M41.9,280.5 L43.6,276.2 L44.7,271.7 L49.6,270.1 L54.6,268.7 L56.9,269.7 L56.7,274.3 L58.7,278.5 L58.9,283.1 L53.9,284.0 L49.3,286.2 L45.8,283.1Z" fill="#a3471b" stroke="#a85a2a" stroke-width="0.8"/><path d="M81.3,274.4 L78.9,269.4 L74.3,268.3 L70.6,265.2 L66.2,265.5 L62.4,267.5 L58.6,269.4 L59.9,273.8 L59.4,278.4 L60.6,282.9 L65.2,286.6 L70.0,283.7 L75.2,281.6 L80.3,279.2Z" fill="#a54916" stroke="#a85a2a" stroke-width="0.8"/><path d="M31.9,286.3 L32.4,290.9 L33.0,295.5 L35.0,299.7 L40.6,299.2 L46.2,299.7 L47.1,295.6 L47.6,291.5 L48.3,287.3 L44.1,285.4 L41.0,281.8 L36.9,284.8Z" fill="#a64a1c" stroke="#a85a2a" stroke-width="0.8"/><path d="M91.0,300.2 L85.9,301.5 L82.1,305.5 L77.0,306.6 L71.2,305.5 L65.4,304.5 L65.0,298.9 L65.9,293.3 L65.2,287.8 L68.8,284.8 L73.0,283.2 L77.7,282.4 L81.4,279.7 L83.9,284.8 L86.3,289.9 L87.6,295.6Z" fill="#9d3f17" stroke="#a85a2a" stroke-width="0.8"/><path d="M135.5,292.0 L134.8,297.0 L134.6,302.1 L136.1,302.9 L141.8,303.1 L147.5,302.1 L153.2,302.5 L158.9,302.2 L161.2,298.5 L162.1,292.7 L161.8,286.9 L160.3,284.2 L155.0,282.1 L149.9,279.7 L144.3,278.5 L142.1,279.2 L139.8,283.4 L138.3,288.0Z" fill="#a14a15" stroke="#a85a2a" stroke-width="0.8"/><path d="M177.3,301.2 L171.9,301.1 L166.8,299.2 L161.5,298.4 L162.4,292.8 L162.1,287.1 L167.3,287.4 L172.4,287.7 L177.5,288.5 L182.6,289.4 L180.7,293.3 L178.7,297.1Z" fill="#a0401c" stroke="#a85a2a" stroke-width="0.8"/><path d="M5.8,303.7 L10.8,306.3 L15.1,310.0 L15.8,313.4 L14.9,316.8 L12.3,321.7 L10.4,326.7 L9.5,332.2 L7.3,332.7 L3.1,330.9 L-0.1,327.7 L-3.4,324.7 L-2.8,320.0 L-0.8,315.6 L1.6,311.4 L2.0,306.6Z" fill="#994218" stroke="#a85a2a" stroke-width="0.8"/><path d="M29.5,306.8 L32.0,311.4 L35.0,315.8 L36.6,320.8 L34.4,324.1 L31.6,326.9 L28.5,323.3 L24.5,321.2 L19.9,319.9 L16.7,316.6 L17.6,312.9 L17.0,309.0 L21.0,307.9 L25.4,308.2Z" fill="#985415" stroke="#a85a2a" stroke-width="0.8"/><path d="M34.5,301.5 L32.3,304.1 L30.2,306.6 L33.3,310.8 L35.7,315.4 L37.2,320.4 L42.0,320.4 L46.8,320.3 L51.5,321.9 L54.4,319.3 L55.3,313.8 L57.5,308.8 L53.4,307.1 L50.1,304.0 L46.5,301.6 L40.5,301.9Z" fill="#a14514" stroke="#a85a2a" stroke-width="0.8"/><path d="M90.9,302.3 L90.8,302.3 L86.7,304.5 L82.1,305.6 L78.1,308.1 L79.0,312.5 L78.4,317.2 L79.0,321.7 L80.6,326.0 L84.5,327.3 L87.9,329.4 L92.2,326.4 L95.2,322.0 L99.5,319.0 L98.4,314.7 L99.0,310.4 L94.8,306.5Z" fill="#a15615" stroke="#a85a2a" stroke-width="0.8"/><path d="M101.7,310.0 L102.8,314.4 L102.1,318.9 L104.9,322.7 L108.8,325.1 L112.7,327.6 L116.1,322.9 L121.4,320.2 L124.7,315.4 L124.7,310.8 L126.5,306.5 L122.3,306.7 L118.5,304.9 L113.0,307.0 L107.0,307.3Z" fill="#98551a" stroke="#a85a2a" stroke-width="0.8"/><path d="M147.7,322.3 L150.5,324.7 L153.4,326.9 L157.0,325.0 L160.2,322.6 L163.3,319.9 L162.8,313.9 L159.2,308.9 L158.3,303.0 L153.0,302.4 L147.8,303.5 L142.5,302.8 L137.2,303.7 L139.0,308.8 L141.4,313.6 L145.6,317.4Z" fill="#9f561d" stroke="#a85a2a" stroke-width="0.8"/><path d="M16.9,317.2 L15.3,322.7 L12.5,327.8 L11.2,333.4 L16.3,335.4 L21.4,337.5 L25.3,334.7 L29.2,332.1 L31.0,326.9 L26.2,323.9 L21.5,320.6Z" fill="#9a3f1b" stroke="#a85a2a" stroke-width="0.8"/><path d="M32.2,327.3 L30.4,332.7 L33.8,335.2 L37.9,336.4 L43.7,335.0 L49.7,334.9 L49.6,330.8 L50.3,326.8 L51.4,322.8 L46.6,322.8 L41.9,321.2 L37.1,321.4 L34.9,324.5Z" fill="#9d4e15" stroke="#a85a2a" stroke-width="0.8"/><path d="M87.7,331.1 L83.5,329.7 L79.7,327.5 L75.3,328.8 L71.1,330.8 L71.2,334.4 L69.2,337.3 L71.6,340.9 L73.5,344.8 L75.9,348.4 L80.0,344.7 L84.7,341.6 L89.4,338.7 L88.8,334.9Z" fill="#a1421b" stroke="#a85a2a" stroke-width="0.8"/><path d="M116.8,337.8 L114.8,333.2 L113.9,328.3 L117.3,323.9 L122.5,321.3 L125.5,316.6 L128.4,321.0 L130.5,325.8 L129.0,329.6 L126.9,333.3 L126.8,337.5 L122.2,337.0 L117.8,338.6Z" fill="#984b1a" stroke="#a85a2a" stroke-width="0.8"/><path d="M128.1,338.1 L131.6,339.1 L134.9,340.8 L138.4,337.4 L142.5,335.0 L147.3,333.6 L151.3,331.1 L151.9,328.4 L148.5,327.0 L146.3,324.0 L141.6,325.4 L136.7,325.8 L131.8,326.2 L131.5,330.5 L130.4,334.5Z" fill="#a64916" stroke="#a85a2a" stroke-width="0.8"/><path d="M164.1,351.3 L164.5,351.6 L168.0,347.4 L173.1,344.8 L177.0,341.0 L180.2,336.5 L178.1,332.0 L174.6,328.2 L173.0,323.4 L169.0,323.6 L165.0,323.0 L161.1,327.1 L155.8,329.4 L155.3,332.0 L158.1,336.5 L160.7,341.1 L162.7,346.1Z" fill="#a24015" stroke="#a85a2a" stroke-width="0.8"/><path d="M8.3,359.3 L12.2,356.9 L16.0,354.5 L20.8,354.0 L24.6,351.4 L23.6,347.4 L21.9,343.6 L20.4,339.8 L15.5,337.5 L10.4,335.8 L8.1,336.3 L6.2,341.7 L2.6,346.1 L4.4,351.6 L5.1,357.4Z" fill="#a1561c" stroke="#a85a2a" stroke-width="0.8"/><path d="M38.3,350.2 L34.0,352.6 L29.0,352.8 L26.5,350.9 L25.9,346.6 L22.7,343.3 L22.2,338.9 L25.7,335.5 L30.2,333.5 L33.7,335.7 L37.5,337.1 L37.0,341.5 L37.4,345.9Z" fill="#9f4214" stroke="#a85a2a" stroke-width="0.8"/><path d="M52.4,352.2 L52.5,347.9 L53.7,343.8 L52.7,339.1 L50.2,335.2 L46.1,335.9 L41.9,336.6 L37.8,336.7 L38.0,341.4 L39.5,346.0 L38.6,350.8 L43.2,351.1 L47.9,351.0Z" fill="#a34b1c" stroke="#a85a2a" stroke-width="0.8"/><path d="M74.8,348.4 L74.5,351.7 L73.2,354.6 L70.0,359.0 L65.9,357.7 L61.8,358.5 L57.7,358.3 L55.0,355.4 L53.9,351.5 L53.4,347.6 L55.0,343.9 L60.0,343.1 L64.1,340.2 L68.6,338.1 L71.6,341.0 L72.7,345.0Z" fill="#a0491d" stroke="#a85a2a" stroke-width="0.8"/><path d="M89.3,340.2 L85.8,343.8 L81.3,346.2 L77.2,349.0 L75.6,351.8 L75.6,355.0 L80.2,355.2 L84.7,355.4 L89.3,355.0 L93.8,354.7 L94.0,354.5 L93.4,349.5 L94.2,344.5 L92.3,341.8Z" fill="#985015" stroke="#a85a2a" stroke-width="0.8"/><path d="M115.7,339.4 L110.6,340.4 L105.8,342.5 L100.6,342.7 L95.5,343.6 L95.0,349.4 L95.3,355.1 L100.4,356.1 L104.9,358.4 L109.4,360.9 L112.0,358.0 L115.8,357.0 L116.2,351.4 L116.2,345.8 L116.8,340.3Z" fill="#a0451a" stroke="#a85a2a" stroke-width="0.8"/><path d="M139.3,356.3 L144.0,355.8 L148.8,355.3 L153.7,355.7 L158.3,353.8 L163.2,353.8 L161.8,349.0 L158.6,345.1 L157.5,340.1 L154.6,336.0 L152.9,331.3 L148.3,333.8 L143.3,335.8 L139.9,340.3 L134.8,342.1 L135.6,347.0 L137.7,351.6Z" fill="#9e4714" stroke="#a85a2a" stroke-width="0.8"/><path d="M75.7,356.4 L80.2,356.7 L84.8,357.3 L89.3,357.3 L93.8,356.1 L91.3,360.6 L89.8,365.5 L89.7,370.8 L86.2,375.0 L85.7,380.2 L81.8,375.7 L79.9,369.9 L76.6,365.0 L72.5,360.5Z" fill="#a14b16" stroke="#a85a2a" stroke-width="0.8"/>
<path d="M52.0,196.2 L47.7,193.2 L43.9,189.5 L39.5,186.7 L35.2,183.7 L31.1,180.4 L29.6,184.9 L27.6,189.3 L25.9,193.8 L29.5,196.2 L35.1,196.2 L40.7,196.6 L46.3,196.9 L51.8,198.1Z" fill="#a89930" stroke="#c8bc5a" stroke-width="0.9"/><path d="M158.2,159.7 L158.9,165.2 L160.1,170.6 L160.5,176.1 L160.8,181.7 L163.4,186.9 L162.6,192.6 L164.4,197.9 L160.3,201.4 L156.7,205.3 L155.2,200.8 L152.9,196.6 L151.4,192.1 L148.7,188.0 L150.3,182.3 L152.9,176.8 L153.9,170.9 L156.3,165.4Z" fill="#ab9721" stroke="#c8bc5a" stroke-width="0.9"/><path d="M-3.8,205.5 L-5.5,202.5 L-5.6,199.1 L0.0,197.3 L5.4,194.8 L10.8,196.4 L16.4,197.7 L15.7,203.1 L15.4,208.5 L11.8,210.9 L8.2,213.1 L3.9,211.0 L0.4,207.7Z" fill="#a8a127" stroke="#c8bc5a" stroke-width="0.9"/><path d="M-0.2,205.1 L-1.2,201.3 L2.1,200.3 L5.2,198.8 L8.2,200.6 L11.6,200.5 L10.4,203.6 L11.1,206.8 L9.5,209.0 L6.8,209.5 L4.8,207.5 L1.8,207.0Z" fill="none" stroke="#b4a840" stroke-width="0.7" opacity="0.6"/><path d="M25.4,214.3 L31.0,213.4 L36.7,212.4 L38.4,209.8 L34.6,205.3 L30.5,201.1 L26.2,197.0 L22.7,194.7 L19.1,197.6 L18.3,202.7 L18.2,207.9 L21.9,210.9Z" fill="#ab9a2c" stroke="#c8bc5a" stroke-width="0.9"/><path d="M26.7,210.9 L29.9,209.2 L33.4,209.8 L34.4,208.2 L32.0,205.7 L29.1,203.6 L27.2,200.6 L25.1,199.3 L23.0,201.0 L23.0,204.1 L22.5,207.1 L25.3,208.2Z" fill="none" stroke="#b4a840" stroke-width="0.7" opacity="0.6"/><path d="M39.9,208.3 L36.7,204.6 L32.7,201.7 L30.4,197.2 L26.5,194.2 L32.4,194.0 L38.2,194.9 L44.0,195.7 L49.9,196.2 L50.1,201.8 L47.1,204.6 L43.5,206.4Z" fill="#a5a033" stroke="#c8bc5a" stroke-width="0.9"/><path d="M38.6,204.4 L35.8,202.8 L34.4,199.8 L31.9,197.7 L29.9,195.3 L33.7,195.2 L37.4,196.8 L41.2,196.9 L45.0,196.7 L45.2,200.3 L42.4,203.1Z" fill="none" stroke="#b4a840" stroke-width="0.7" opacity="0.6"/><path d="M77.8,201.3 L76.9,201.0 L72.1,203.2 L68.1,206.7 L64.1,210.1 L67.0,213.7 L70.7,216.5 L73.6,220.1 L76.4,223.7 L79.8,220.0 L83.5,216.6 L86.0,212.2 L82.9,208.8 L80.4,205.1Z" fill="#a2a028" stroke="#c8bc5a" stroke-width="0.9"/><path d="M109.0,190.2 L104.1,193.2 L98.9,195.8 L98.6,199.9 L99.9,203.8 L99.5,207.8 L99.6,207.9 L104.5,208.5 L109.0,210.7 L112.4,208.0 L115.9,205.3 L117.7,199.9 L114.4,197.0 L112.3,193.0Z" fill="#ada530" stroke="#c8bc5a" stroke-width="0.9"/><path d="M147.1,189.7 L148.5,194.4 L151.5,198.4 L152.8,203.1 L155.2,207.3 L155.0,207.6 L149.6,209.3 L144.1,211.0 L141.7,210.3 L139.8,206.3 L138.1,202.2 L136.7,197.9 L139.8,194.6 L143.6,192.4Z" fill="#a79b31" stroke="#c8bc5a" stroke-width="0.9"/><path d="M154.5,207.3 L154.4,207.6 L157.8,210.8 L160.2,214.8 L162.8,218.6 L167.6,216.5 L171.0,212.3 L176.0,210.6 L180.4,207.9 L184.3,204.5 L188.6,201.7 L183.5,200.6 L178.2,200.9 L173.1,200.6 L167.9,199.9 L162.8,199.4 L159.0,203.8Z" fill="#a69933" stroke="#c8bc5a" stroke-width="0.9"/><path d="M160.9,207.5 L160.8,207.7 L162.1,211.1 L165.1,213.2 L167.9,210.4 L172.2,209.9 L175.4,207.5 L178.2,204.6 L174.9,204.0 L171.6,204.3 L168.3,204.5 L165.1,203.5 L163.6,206.2Z" fill="none" stroke="#b4a840" stroke-width="0.7" opacity="0.6"/><path d="M9.3,221.4 L12.0,225.1 L15.7,227.7 L19.3,230.4 L20.0,230.4 L21.6,227.3 L24.4,225.0 L25.3,220.8 L26.0,216.5 L21.9,213.8 L18.8,210.1 L15.8,213.0 L11.9,214.5 L9.7,217.6Z" fill="#a69722" stroke="#c8bc5a" stroke-width="0.9"/><path d="M27.7,216.3 L33.1,216.0 L38.3,214.6 L39.5,218.8 L40.6,223.1 L37.3,227.4 L31.8,225.8 L26.2,224.2 L26.9,220.2Z" fill="#aba52f" stroke="#c8bc5a" stroke-width="0.9"/><path d="M30.1,219.0 L33.0,217.9 L36.1,218.0 L37.7,220.2 L37.4,222.9 L35.6,225.4 L32.2,225.2 L29.2,223.6 L29.0,221.2Z" fill="none" stroke="#b4a840" stroke-width="0.7" opacity="0.6"/><path d="M41.0,214.8 L42.8,212.0 L47.6,208.6 L52.8,205.7 L55.4,207.4 L57.7,209.5 L57.5,214.4 L57.6,219.3 L57.1,224.2 L56.7,229.1 L52.5,227.1 L47.7,226.9 L43.6,224.6 L41.9,219.8Z" fill="#a8a02c" stroke="#c8bc5a" stroke-width="0.9"/><path d="M130.6,220.7 L131.6,216.5 L133.4,212.5 L137.5,211.4 L141.0,209.1 L143.5,209.9 L143.2,214.1 L144.4,218.1 L145.1,222.1 L142.0,225.3 L138.5,228.0 L134.4,224.6Z" fill="#aaa326" stroke="#c8bc5a" stroke-width="0.9"/><path d="M134.6,220.7 L135.9,217.0 L139.3,215.5 L140.4,215.8 L141.6,218.5 L141.1,221.3 L138.2,224.0 L137.0,221.7Z" fill="none" stroke="#b4a840" stroke-width="0.7" opacity="0.6"/><path d="M141.7,211.1 L141.6,215.3 L142.4,219.3 L143.2,223.4 L147.5,224.9 L151.1,227.7 L154.9,230.1 L158.6,227.5 L161.9,224.4 L161.5,218.6 L159.0,214.7 L155.8,211.3 L153.1,207.6 L147.5,210.0Z" fill="#af9c2e" stroke="#c8bc5a" stroke-width="0.9"/><path d="M102.3,235.1 L98.9,232.4 L96.4,228.9 L94.5,225.1 L90.8,227.9 L87.9,231.5 L84.7,234.8 L88.9,236.1 L93.2,237.3 L97.2,239.3 L99.8,237.2Z" fill="#a5a330" stroke="#c8bc5a" stroke-width="0.9"/><path d="M98.5,232.3 L97.4,229.4 L94.9,227.7 L93.0,230.3 L90.5,232.1 L93.2,233.5 L96.2,234.2Z" fill="none" stroke="#b4a840" stroke-width="0.7" opacity="0.6"/><path d="M121.0,237.7 L122.2,232.4 L122.0,227.1 L118.3,223.0 L114.3,219.1 L111.0,214.7 L109.8,219.6 L108.8,224.5 L106.8,229.2 L106.1,234.2 L110.9,236.0 L116.2,235.8Z" fill="#a49a29" stroke="#c8bc5a" stroke-width="0.9"/><path d="M121.5,238.8 L121.6,233.3 L122.6,227.9 L126.4,225.5 L130.5,223.6 L135.1,226.5 L138.4,230.9 L137.8,236.2 L133.4,237.7 L129.8,240.7 L125.5,242.4 L122.7,240.6Z" fill="#a39926" stroke="#c8bc5a" stroke-width="0.9"/><path d="M8.8,240.5 L11.1,245.8 L11.7,251.7 L14.2,256.9 L13.9,257.2 L10.1,257.3 L6.6,258.5 L3.0,255.5 L-1.0,253.1 L-4.5,250.0 L-7.7,246.6 L-4.5,244.0 L-1.2,241.6 L2.3,239.5 L5.7,239.1Z" fill="#a79c25" stroke="#c8bc5a" stroke-width="0.9"/><path d="M6.8,243.7 L8.0,246.6 L8.4,249.6 L9.6,252.5 L9.5,252.6 L5.6,253.3 L3.0,251.2 L0.0,249.6 L-2.0,247.0 L1.0,245.6 L3.3,243.2Z" fill="none" stroke="#b4a840" stroke-width="0.7" opacity="0.6"/><path d="M10.4,241.2 L11.5,246.5 L13.2,251.6 L15.5,256.5 L19.0,255.5 L22.2,252.1 L25.3,248.5 L28.0,244.6 L24.5,241.6 L22.4,237.4 L19.2,234.2 L18.5,234.2 L14.8,238.1Z" fill="#a59627" stroke="#c8bc5a" stroke-width="0.9"/><path d="M13.2,242.3 L13.6,245.6 L14.6,248.8 L16.3,251.7 L18.4,251.0 L19.6,248.3 L22.4,246.8 L23.9,244.4 L22.8,241.7 L19.5,240.8 L18.5,238.0 L18.1,238.0 L16.1,240.7Z" fill="none" stroke="#b4a840" stroke-width="0.7" opacity="0.6"/><path d="M45.9,262.1 L43.3,260.2 L40.5,258.9 L40.2,254.3 L40.1,249.7 L39.3,245.2 L43.4,244.4 L47.5,245.1 L51.6,244.4 L53.5,247.8 L56.1,250.6 L57.4,254.9 L53.6,257.9 L50.4,261.6Z" fill="#a2a52b" stroke="#c8bc5a" stroke-width="0.9"/><path d="M45.9,258.3 L42.9,256.5 L42.6,252.7 L42.3,248.9 L45.7,248.7 L49.1,248.5 L50.8,249.8 L51.6,251.9 L52.3,254.3 L50.8,256.6 L48.4,258.1Z" fill="none" stroke="#b4a840" stroke-width="0.7" opacity="0.6"/><path d="M58.7,248.5 L63.1,245.0 L67.6,241.8 L73.3,241.8 L78.8,243.0 L79.8,248.2 L78.9,253.5 L74.2,254.6 L70.3,257.5 L65.1,255.7 L60.2,253.2Z" fill="#a99a21" stroke="#c8bc5a" stroke-width="0.9"/><path d="M97.8,251.1 L94.7,254.9 L88.7,255.4 L82.8,254.6 L81.1,254.0 L81.4,249.2 L81.1,244.5 L83.0,240.4 L83.9,235.9 L84.1,235.9 L88.0,237.9 L92.1,239.2 L96.3,240.3 L98.0,245.6Z" fill="#a59d2e" stroke="#c8bc5a" stroke-width="0.9"/><path d="M94.0,248.9 L92.2,251.1 L88.9,250.2 L85.5,250.9 L84.6,250.5 L83.4,247.9 L84.6,245.2 L84.8,242.6 L86.1,240.4 L86.3,240.4 L89.9,241.2 L93.1,242.9 L92.4,246.1Z" fill="none" stroke="#b4a840" stroke-width="0.7" opacity="0.6"/><path d="M124.2,243.9 L126.6,248.6 L127.8,253.8 L132.8,256.8 L138.2,259.0 L142.7,257.0 L143.6,255.9 L143.3,251.6 L145.2,247.5 L144.9,243.3 L140.1,241.1 L135.9,238.0 L131.8,239.5 L127.8,241.3Z" fill="#a5952b" stroke="#c8bc5a" stroke-width="0.9"/><path d="M129.4,244.9 L129.8,247.9 L131.4,250.5 L134.4,251.9 L137.3,253.5 L139.9,252.4 L140.4,251.7 L140.8,248.1 L141.2,244.5 L138.6,243.0 L136.0,241.5 L132.7,243.3Z" fill="none" stroke="#b4a840" stroke-width="0.7" opacity="0.6"/><path d="M161.7,250.6 L156.8,251.9 L151.6,251.7 L146.7,253.1 L146.5,247.2 L147.9,241.6 L150.9,238.7 L154.6,236.9 L157.3,240.2 L160.5,243.3 L163.0,246.8Z" fill="#a59a2a" stroke="#c8bc5a" stroke-width="0.9"/><path d="M6.1,280.1 L2.6,277.3 L-0.9,274.5 L-3.9,271.2 L0.1,267.9 L2.1,262.9 L6.0,259.6 L9.6,258.3 L13.3,258.3 L13.8,262.7 L14.7,267.1 L15.7,271.5 L12.8,274.7 L8.7,276.6Z" fill="#a79e21" stroke="#c8bc5a" stroke-width="0.9"/><path d="M42.3,277.0 L45.2,271.9 L47.0,266.4 L43.6,265.0 L40.8,262.7 L37.2,265.0 L33.0,265.6 L32.5,271.2 L31.8,276.9 L37.1,276.0Z" fill="#af9426" stroke="#c8bc5a" stroke-width="0.9"/><path d="M40.2,273.8 L41.3,271.4 L42.4,269.0 L39.6,267.3 L36.0,268.6 L36.8,271.3 L35.5,273.7 L37.9,274.7Z" fill="none" stroke="#b4a840" stroke-width="0.7" opacity="0.6"/><path d="M70.6,274.7 L70.2,268.8 L70.5,262.9 L66.1,260.2 L61.1,258.9 L56.9,261.8 L53.8,265.9 L55.4,270.7 L57.7,275.2 L59.3,280.1 L63.4,279.0 L67.2,277.3Z" fill="#a69531" stroke="#c8bc5a" stroke-width="0.9"/><path d="M96.3,271.3 L99.5,267.3 L97.6,262.9 L96.8,258.2 L92.7,259.0 L88.6,258.2 L84.6,257.8 L85.0,263.6 L87.4,269.0 L92.0,269.6Z" fill="#a8a520" stroke="#c8bc5a" stroke-width="0.9"/><path d="M94.3,269.8 L96.4,267.1 L94.6,264.4 L94.6,261.1 L90.6,260.0 L86.6,260.9 L86.7,264.8 L88.4,268.2 L91.6,268.2Z" fill="none" stroke="#b4a840" stroke-width="0.7" opacity="0.6"/><path d="M101.6,252.8 L98.3,257.0 L100.0,261.7 L101.2,266.5 L105.4,267.4 L109.4,268.8 L113.3,270.6 L116.0,268.7 L116.2,264.9 L117.6,261.5 L114.9,258.0 L111.6,255.2 L107.8,253.0 L104.7,253.2Z" fill="#ab9c25" stroke="#c8bc5a" stroke-width="0.9"/><path d="M103.8,255.3 L101.6,258.2 L102.9,261.4 L103.6,264.8 L106.3,265.9 L108.8,267.6 L111.9,267.6 L113.8,266.2 L113.9,263.6 L114.9,261.3 L113.1,258.7 L109.8,258.0 L108.1,255.4 L106.0,254.8Z" fill="none" stroke="#b4a840" stroke-width="0.7" opacity="0.6"/><path d="M118.8,271.0 L123.6,273.7 L129.1,274.2 L134.1,276.4 L136.6,272.9 L139.0,269.4 L139.4,264.7 L140.9,260.3 L135.2,258.4 L130.2,255.0 L127.0,257.9 L123.4,260.3 L120.5,263.4 L119.1,267.1Z" fill="#a2a424" stroke="#c8bc5a" stroke-width="0.9"/><path d="M122.3,269.5 L125.4,271.6 L128.8,272.4 L132.4,273.1 L133.7,270.5 L135.6,268.5 L136.1,265.4 L136.9,262.5 L133.7,260.0 L129.8,259.0 L127.9,261.1 L125.1,262.1 L123.4,264.5 L122.2,266.9Z" fill="none" stroke="#b4a840" stroke-width="0.7" opacity="0.6"/><path d="M149.8,277.1 L154.3,275.0 L158.5,272.5 L154.8,269.2 L151.5,265.5 L148.1,261.9 L144.5,258.6 L139.8,260.6 L138.8,265.2 L137.9,269.9 L142.3,271.6 L145.4,275.5Z" fill="#af9432" stroke="#c8bc5a" stroke-width="0.9"/><path d="M11.6,289.8 L16.5,287.4 L20.8,284.1 L26.0,282.4 L26.3,279.8 L22.1,276.4 L17.3,274.1 L14.1,276.5 L10.8,278.8 L8.4,282.1 L9.5,285.5 L9.8,289.0Z" fill="#aca327" stroke="#c8bc5a" stroke-width="0.9"/><path d="M14.3,285.9 L16.3,283.5 L19.1,282.6 L21.9,281.9 L22.1,280.5 L19.5,279.3 L17.3,277.5 L15.5,280.3 L12.5,281.7 L13.3,285.4Z" fill="none" stroke="#b4a840" stroke-width="0.7" opacity="0.6"/><path d="M28.1,280.5 L30.4,284.0 L31.8,288.1 L34.2,291.5 L34.6,291.5 L38.0,288.4 L41.5,285.5 L44.7,282.3 L42.5,279.0 L40.5,275.7 L35.7,275.5 L30.8,275.6 L28.3,277.9Z" fill="#ae982a" stroke="#c8bc5a" stroke-width="0.9"/><path d="M57.0,288.4 L55.9,285.4 L57.7,282.0 L61.9,280.7 L65.6,278.5 L69.3,276.4 L71.4,279.3 L74.6,280.9 L73.4,285.0 L70.6,288.4 L68.7,292.1 L64.9,290.4 L61.2,288.8Z" fill="#aa9e27" stroke="#c8bc5a" stroke-width="0.9"/><path d="M96.5,273.8 L91.8,271.7 L86.5,271.2 L84.0,276.2 L80.0,280.1 L84.2,283.4 L88.9,285.7 L91.6,283.7 L94.3,281.8 L95.9,277.9Z" fill="#a69c30" stroke="#c8bc5a" stroke-width="0.9"/><path d="M92.6,274.4 L90.0,273.7 L87.4,273.0 L85.0,274.8 L84.0,277.7 L86.6,278.7 L88.6,280.6 L91.5,278.5 L92.8,276.7Z" fill="none" stroke="#b4a840" stroke-width="0.7" opacity="0.6"/><path d="M141.8,290.4 L138.4,286.5 L135.7,282.0 L135.1,277.9 L137.9,274.8 L139.9,271.2 L143.6,273.7 L147.6,275.6 L151.3,278.1 L149.2,282.6 L148.1,287.5 L144.6,288.2Z" fill="#a8a422" stroke="#c8bc5a" stroke-width="0.9"/><path d="M143.2,286.4 L140.9,284.0 L139.3,281.0 L138.9,278.4 L140.6,276.3 L142.0,274.1 L144.4,275.5 L147.3,276.3 L149.3,278.5 L147.7,281.3 L147.2,284.5 L145.0,284.9Z" fill="none" stroke="#b4a840" stroke-width="0.7" opacity="0.6"/><path d="M12.1,289.8 L15.3,293.8 L18.2,298.1 L21.2,302.3 L25.1,302.9 L27.8,299.4 L31.3,296.8 L34.4,293.8 L31.7,290.0 L29.3,286.1 L27.7,281.8 L22.6,284.7 L17.7,287.9Z" fill="#a8a02d" stroke="#c8bc5a" stroke-width="0.9"/><path d="M54.7,299.1 L56.6,293.6 L57.3,288.0 L56.2,284.8 L51.7,284.8 L47.3,284.0 L43.8,287.1 L39.7,289.7 L36.8,293.6 L40.3,296.1 L43.9,298.4 L47.4,300.8 L51.2,300.5Z" fill="#a6a220" stroke="#c8bc5a" stroke-width="0.9"/><path d="M51.3,295.6 L51.3,292.7 L52.5,290.1 L52.0,288.6 L49.9,287.3 L47.6,288.2 L45.8,291.4 L42.4,292.9 L45.3,294.3 L47.7,296.4Z" fill="none" stroke="#b4a840" stroke-width="0.7" opacity="0.6"/><path d="M64.0,307.3 L66.5,303.3 L70.4,300.4 L72.8,296.3 L70.5,291.9 L66.3,291.3 L62.2,290.1 L58.4,288.0 L57.7,293.8 L55.9,299.3 L60.0,303.3Z" fill="#afa12b" stroke="#c8bc5a" stroke-width="0.9"/><path d="M70.0,290.1 L71.5,286.0 L74.6,282.7 L76.1,278.6 L77.5,278.8 L81.5,281.7 L85.9,284.2 L85.4,288.4 L86.9,292.5 L86.1,296.7 L81.6,295.1 L76.8,295.4 L72.3,294.4Z" fill="#ae9e2a" stroke="#c8bc5a" stroke-width="0.9"/><path d="M92.4,282.4 L97.9,284.2 L103.4,285.7 L108.5,288.5 L108.7,289.2 L107.4,293.3 L104.8,296.6 L99.3,297.8 L93.8,299.4 L88.2,300.1 L87.4,298.8 L87.9,294.6 L86.5,290.4 L87.2,286.2 L89.3,283.5Z" fill="#af992a" stroke="#c8bc5a" stroke-width="0.9"/><path d="M94.6,286.1 L97.4,286.9 L99.8,288.8 L102.7,289.2 L102.8,289.5 L102.8,291.9 L100.8,293.2 L97.9,293.0 L95.1,293.3 L92.5,295.0 L92.1,294.3 L92.2,291.2 L92.0,288.0Z" fill="none" stroke="#b4a840" stroke-width="0.7" opacity="0.6"/><path d="M107.5,296.7 L108.9,301.4 L111.5,305.5 L115.7,302.6 L120.9,302.1 L125.3,299.6 L122.3,296.4 L118.2,294.4 L115.7,290.8 L111.1,289.9 L110.1,293.7Z" fill="#aca026" stroke="#c8bc5a" stroke-width="0.9"/><path d="M142.3,291.6 L146.1,293.9 L149.2,297.3 L152.4,297.8 L155.6,297.3 L155.7,292.7 L155.9,288.1 L152.2,287.0 L148.4,286.6 L145.3,287.5 L142.7,289.3Z" fill="#aa972d" stroke="#c8bc5a" stroke-width="0.9"/><path d="M147.3,292.4 L149.1,293.7 L150.8,295.3 L154.1,295.3 L153.3,292.9 L154.3,290.5 L150.4,289.8 L147.5,291.1Z" fill="none" stroke="#b4a840" stroke-width="0.7" opacity="0.6"/><path d="M-2.9,300.9 L0.1,304.3 L2.1,308.3 L4.6,312.0 L2.0,315.2 L-0.3,318.6 L-5.6,317.7 L-11.0,319.4 L-16.3,317.6 L-21.6,317.4 L-27.0,318.6 L-32.3,318.2 L-27.2,315.7 L-22.2,313.0 L-17.4,309.8 L-12.9,306.3 L-7.6,304.0Z" fill="#ae9529" stroke="#c8bc5a" stroke-width="0.9"/><path d="M-3.8,303.6 L-2.7,306.4 L0.4,307.8 L1.2,310.9 L-0.9,312.7 L-2.1,315.2 L-5.6,314.7 L-9.2,316.1 L-12.7,315.1 L-16.2,314.6 L-19.7,315.4 L-23.3,315.0 L-20.0,313.1 L-16.2,312.2 L-13.3,309.6 L-10.3,307.4 L-7.5,304.6Z" fill="none" stroke="#b4a840" stroke-width="0.7" opacity="0.6"/><path d="M46.4,302.6 L42.9,300.0 L39.3,297.6 L35.6,295.2 L35.2,295.2 L31.9,297.9 L29.4,301.4 L26.2,304.1 L28.6,308.9 L31.0,313.6 L33.4,318.4 L35.4,320.6 L38.6,319.5 L41.5,317.7 L42.6,312.5 L43.9,307.3Z" fill="#a39731" stroke="#c8bc5a" stroke-width="0.9"/><path d="M59.6,308.9 L56.3,304.5 L51.9,301.2 L48.3,302.0 L44.8,302.9 L43.0,307.6 L41.9,312.5 L40.1,317.2 L44.3,317.1 L48.2,318.3 L52.5,317.7 L56.8,316.6 L61.2,315.9 L60.1,312.5Z" fill="#a5a026" stroke="#c8bc5a" stroke-width="0.9"/><path d="M95.8,319.6 L93.7,314.6 L91.1,309.8 L88.2,305.2 L84.5,309.5 L79.8,313.0 L76.6,317.7 L72.5,321.7 L77.7,323.8 L83.1,324.8 L88.7,325.2 L92.5,322.7Z" fill="#ad9d2e" stroke="#c8bc5a" stroke-width="0.9"/><path d="M92.8,319.0 L91.6,315.3 L88.5,312.7 L87.5,308.9 L85.2,312.2 L81.9,314.5 L78.8,317.1 L76.5,320.4 L80.5,320.4 L83.8,323.1 L87.8,322.8 L90.1,320.6Z" fill="none" stroke="#b4a840" stroke-width="0.7" opacity="0.6"/><path d="M89.7,300.7 L89.7,301.4 L93.1,306.2 L95.8,311.3 L97.8,316.9 L100.9,317.8 L104.1,318.1 L107.8,315.7 L110.7,312.4 L110.9,306.9 L109.4,301.7 L106.5,297.1 L101.0,298.6 L95.1,298.6Z" fill="#a6a432" stroke="#c8bc5a" stroke-width="0.9"/><path d="M93.8,302.7 L93.7,303.2 L95.1,306.8 L96.9,310.2 L99.2,313.5 L101.1,314.7 L103.4,314.3 L105.6,312.4 L107.7,310.5 L107.9,306.8 L106.4,303.6 L105.0,300.3 L101.3,301.4 L97.3,301.0Z" fill="none" stroke="#b4a840" stroke-width="0.7" opacity="0.6"/><path d="M131.2,301.7 L128.1,300.8 L123.8,303.3 L119.3,305.2 L114.5,306.6 L114.3,311.6 L118.1,312.9 L122.1,313.6 L125.8,315.3 L130.4,314.6 L132.6,311.8 L131.4,306.8Z" fill="#a3992f" stroke="#c8bc5a" stroke-width="0.9"/><path d="M127.5,304.0 L125.7,303.5 L123.1,304.4 L121.0,306.7 L118.0,306.8 L117.9,309.6 L121.3,310.2 L124.4,311.7 L127.1,311.4 L128.3,309.8 L128.9,306.8Z" fill="none" stroke="#b4a840" stroke-width="0.7" opacity="0.6"/><path d="M138.4,294.8 L135.0,298.8 L131.4,302.8 L132.8,308.4 L133.0,314.2 L137.4,314.5 L141.8,315.8 L146.3,315.3 L147.0,310.6 L146.1,305.9 L146.3,301.2 L141.8,298.7Z" fill="#aea52a" stroke="#c8bc5a" stroke-width="0.9"/><path d="M140.1,299.4 L137.7,301.4 L136.0,304.1 L136.5,307.4 L136.9,310.8 L140.8,310.7 L144.7,311.4 L144.1,308.7 L144.2,305.9 L144.7,303.2 L141.7,302.1Z" fill="none" stroke="#b4a840" stroke-width="0.7" opacity="0.6"/><path d="M8.3,315.8 L8.6,315.7 L12.7,318.5 L16.6,321.6 L15.1,325.5 L14.5,329.7 L12.7,333.5 L9.5,333.5 L7.9,329.4 L6.2,325.4 L4.0,321.6 L6.5,319.0Z" fill="#a8a531" stroke="#c8bc5a" stroke-width="0.9"/><path d="M32.7,325.1 L29.4,328.3 L27.8,332.6 L24.8,336.0 L19.8,333.9 L14.4,333.7 L15.0,329.3 L17.1,325.4 L18.4,321.2 L22.6,320.2 L26.9,320.1 L31.2,320.5 L33.1,322.5Z" fill="#ac9527" stroke="#c8bc5a" stroke-width="0.9"/><path d="M28.3,324.9 L27.4,327.9 L25.2,330.0 L23.1,332.2 L19.8,330.6 L16.2,330.7 L17.5,328.0 L18.5,325.3 L18.9,322.3 L21.8,323.4 L24.5,320.9 L27.4,321.9 L28.6,323.2Z" fill="none" stroke="#b4a840" stroke-width="0.7" opacity="0.6"/><path d="M50.5,321.2 L52.2,326.9 L52.1,332.8 L47.9,333.9 L43.6,333.4 L39.9,329.2 L35.5,325.8 L36.0,323.0 L39.1,321.8 L42.1,320.1 L46.3,320.2Z" fill="#a29d21" stroke="#c8bc5a" stroke-width="0.9"/><path d="M62.2,317.7 L66.1,321.1 L65.0,325.7 L62.0,329.3 L60.6,333.7 L58.9,338.0 L54.1,335.4 L49.9,331.9 L50.1,325.9 L48.3,320.2 L53.0,319.7 L57.5,318.2Z" fill="#ad9a32" stroke="#c8bc5a" stroke-width="0.9"/><path d="M59.1,320.8 L61.8,323.3 L61.6,326.6 L58.8,328.9 L58.5,332.3 L56.8,335.0 L53.6,333.0 L50.6,330.8 L50.6,328.0 L48.8,325.5 L49.5,322.6 L52.6,321.4 L55.8,320.5Z" fill="none" stroke="#b4a840" stroke-width="0.7" opacity="0.6"/><path d="M80.9,336.8 L85.3,337.2 L89.4,338.6 L89.8,334.1 L88.6,329.7 L88.2,325.2 L83.0,323.8 L77.7,322.5 L72.4,321.8 L72.3,321.8 L74.6,327.1 L78.5,331.6Z" fill="#a39c23" stroke="#c8bc5a" stroke-width="0.9"/><path d="M81.4,334.9 L84.2,335.8 L87.2,336.2 L86.7,333.1 L85.7,330.2 L86.3,327.0 L82.9,325.6 L79.2,325.4 L75.6,324.7 L75.5,324.7 L78.2,327.7 L78.4,332.1Z" fill="none" stroke="#b4a840" stroke-width="0.7" opacity="0.6"/><path d="M109.4,332.2 L107.7,328.4 L107.0,324.2 L105.3,320.4 L101.9,320.4 L98.8,319.0 L94.8,321.9 L91.0,325.2 L92.4,330.2 L92.9,335.2 L92.4,340.4 L93.3,341.4 L97.5,339.5 L101.2,336.5 L105.6,334.9Z" fill="#aca32c" stroke="#c8bc5a" stroke-width="0.9"/><path d="M114.1,332.0 L110.7,330.0 L108.9,326.1 L107.7,322.1 L106.6,318.1 L109.6,314.7 L113.3,312.1 L117.9,312.9 L121.9,315.7 L126.5,316.4 L124.8,321.0 L121.9,325.0 L118.8,328.9Z" fill="#ac9825" stroke="#c8bc5a" stroke-width="0.9"/><path d="M116.7,329.8 L119.9,326.5 L121.9,322.5 L123.8,318.3 L128.7,317.6 L130.5,321.3 L130.2,325.6 L131.6,329.4 L129.5,330.9 L125.2,330.8 L121.0,329.7Z" fill="#a69620" stroke="#c8bc5a" stroke-width="0.9"/><path d="M118.8,329.1 L121.1,327.0 L122.3,324.2 L123.5,321.4 L126.7,321.0 L126.8,323.7 L128.7,326.0 L128.7,328.8 L127.3,329.8 L124.4,329.9 L121.7,328.3Z" fill="none" stroke="#b4a840" stroke-width="0.7" opacity="0.6"/><path d="M155.7,329.0 L157.0,325.5 L156.3,321.8 L152.1,320.1 L148.3,317.8 L144.2,317.1 L140.0,317.3 L135.9,316.8 L133.6,319.7 L134.6,323.6 L135.6,327.5 L136.5,331.5 L139.8,332.8 L142.7,334.9 L146.6,332.1 L151.6,331.4Z" fill="#aba323" stroke="#c8bc5a" stroke-width="0.9"/><path d="M150.8,327.7 L152.0,325.6 L151.1,323.4 L148.7,322.2 L146.3,321.0 L142.5,321.4 L138.9,320.4 L137.5,322.1 L138.2,325.7 L139.2,329.2 L140.6,331.2 L142.9,331.2 L145.9,330.9 L148.5,329.7Z" fill="none" stroke="#b4a840" stroke-width="0.7" opacity="0.6"/><path d="M166.1,337.2 L171.9,336.1 L177.1,333.4 L182.6,331.4 L188.2,329.5 L194.1,328.8 L199.5,326.3 L194.1,324.0 L188.2,323.5 L182.8,321.0 L177.0,320.5 L171.4,318.8 L165.8,317.2 L163.2,319.4 L160.7,321.7 L161.0,325.2 L160.2,328.7 L163.5,332.7Z" fill="#a5982a" stroke="#c8bc5a" stroke-width="0.9"/><path d="M168.3,333.7 L171.7,331.8 L175.5,331.3 L179.2,330.6 L182.4,328.2 L186.2,327.7 L189.9,326.7 L186.3,325.6 L182.7,324.7 L179.3,322.9 L175.6,322.1 L171.5,322.7 L168.2,320.8 L166.0,321.7 L164.9,323.7 L164.6,326.0 L164.5,328.2 L166.1,331.2Z" fill="none" stroke="#b4a840" stroke-width="0.7" opacity="0.6"/><path d="M9.2,337.2 L8.0,338.5 L8.4,343.4 L6.9,348.2 L7.3,353.1 L12.1,356.3 L16.9,353.0 L21.7,349.7 L26.3,346.0 L25.9,342.6 L24.2,339.6 L18.5,338.5 L12.9,337.1Z" fill="#aea330" stroke="#c8bc5a" stroke-width="0.9"/><path d="M11.3,341.9 L10.6,342.7 L11.2,345.5 L9.7,348.3 L10.2,351.2 L13.0,353.0 L16.3,351.8 L18.0,348.4 L21.2,347.1 L20.0,343.3 L16.8,342.0 L13.4,341.9Z" fill="none" stroke="#b4a840" stroke-width="0.7" opacity="0.6"/><path d="M36.0,327.3 L33.9,331.0 L31.8,334.8 L28.5,337.7 L30.3,343.4 L34.0,347.5 L38.9,348.6 L43.9,348.5 L46.7,345.5 L45.2,341.8 L44.3,337.8 L43.1,334.0 L39.1,331.1Z" fill="#aa9b30" stroke="#c8bc5a" stroke-width="0.9"/><path d="M49.2,334.3 L52.7,337.8 L57.3,339.8 L57.2,342.7 L53.1,343.8 L48.9,344.7 L45.2,346.9 L44.3,342.8 L42.9,338.8 L41.4,334.9 L45.3,334.4Z" fill="#a69c24" stroke="#c8bc5a" stroke-width="0.9"/><path d="M48.2,335.6 L51.1,336.3 L52.8,338.8 L52.8,340.4 L49.4,341.9 L45.8,342.9 L44.3,339.6 L43.7,335.9 L45.9,336.1Z" fill="none" stroke="#b4a840" stroke-width="0.7" opacity="0.6"/><path d="M62.9,339.0 L62.9,342.0 L65.6,344.2 L67.7,347.0 L71.9,344.1 L76.7,342.2 L80.6,338.9 L79.0,334.4 L75.4,331.2 L72.8,327.3 L71.3,322.8 L69.9,322.7 L66.7,327.8 L64.6,333.3Z" fill="#aaa22b" stroke="#c8bc5a" stroke-width="0.9"/><path d="M100.8,351.0 L104.6,347.6 L109.1,345.4 L112.9,342.0 L112.2,338.8 L110.4,336.1 L107.2,334.1 L102.1,337.1 L96.4,339.1 L91.7,342.8 L92.4,348.7 L96.5,350.1Z" fill="#ac9422" stroke="#c8bc5a" stroke-width="0.9"/><path d="M115.1,332.7 L115.6,336.0 L117.6,338.6 L120.3,342.0 L124.0,344.3 L127.1,339.9 L129.7,335.2 L132.8,330.8 L128.4,330.0 L123.9,330.6 L119.6,329.7Z" fill="#aba02a" stroke="#c8bc5a" stroke-width="0.9"/><path d="M120.8,332.9 L121.9,335.6 L124.8,338.1 L126.2,334.7 L128.7,332.0 L125.8,331.0 L122.8,331.5Z" fill="none" stroke="#b4a840" stroke-width="0.7" opacity="0.6"/><path d="M116.5,366.4 L119.8,362.2 L122.1,357.5 L123.9,352.5 L122.4,349.0 L119.2,346.3 L116.0,343.4 L112.5,346.9 L107.5,348.5 L104.1,352.2 L107.6,355.4 L110.1,359.5 L113.8,362.6Z" fill="#ad9728" stroke="#c8bc5a" stroke-width="0.9"/><path d="M114.8,361.6 L116.7,358.6 L118.4,355.5 L119.7,352.3 L118.8,350.0 L116.3,348.5 L114.5,346.3 L112.3,348.8 L108.7,349.5 L106.6,352.1 L108.2,354.9 L110.3,357.2 L111.9,360.0Z" fill="none" stroke="#b4a840" stroke-width="0.7" opacity="0.6"/>
</g></g>
<rect x="178" y="206" width="156.4" height="147.5" filter="url(#f2)"/>
<circle cx="251" cy="223.2" r="4.6" fill="#d8a870" opacity="0.7"/><circle cx="251" cy="223.2" r="3.6" fill="#e6aaa8"/>
<rect x="350" y="206" width="155" height="147.5" filter="url(#f3)"/>
<circle cx="462.5" cy="257" r="2.4" fill="#e8c0b8" opacity="0.95"/>
<rect x="165.4" y="205.6" width="8.4" height="148.4" fill="url(#cbc)" stroke="#8a7070" stroke-width="0.5"/>
<rect x="337.6" y="205.6" width="7.8" height="148.4" fill="url(#cbc)" stroke="#8a7070" stroke-width="0.5"/>
<rect x="510.5" y="205.6" width="7.8" height="148.4" fill="url(#cbc)" stroke="#8a7070" stroke-width="0.5"/>
<text x="145.8" y="203.3" class="cb">5nm</text>
<text x="145" y="366.7" class="cb">-5nm</text>
<text x="317.9" y="203.6" class="cb">3nm</text>
<text x="314.4" y="366.7" class="cb">-3nm</text>
<text x="489.8" y="203.6" class="cb">3nm</text>
<text x="486.5" y="366.7" class="cb">-3nm</text>
<text x="11" y="228.6" class="wl">ITO</text>
<text x="11" y="243.2" class="wl" textLength="75.5" lengthAdjust="spacingAndGlyphs">RMS:1.20 nm</text>
<text x="183.6" y="227.8" class="wl">ITO/ZnO</text>
<text x="183.6" y="242.4" class="wl" textLength="75.3" lengthAdjust="spacingAndGlyphs">RMS:0.99 nm</text>
<text x="352.6" y="227.9" class="wl" textLength="114.5" lengthAdjust="spacingAndGlyphs">ITO/ZnO/PF<tspan class="sub" dy="2.2">EO</tspan><tspan dy="-2.2">SO</tspan><tspan class="sub" dy="2.2">3</tspan><tspan dy="-2.2">Na</tspan></text>
<text x="352.6" y="241.8" class="wl" textLength="75.8" lengthAdjust="spacingAndGlyphs">RMS:0.62 nm</text>
<text x="0.3" y="388.3" class="lab">(d)</text>
<linearGradient id="d1g" x1="0" y1="0" x2="0" y2="1"><stop offset="0" stop-color="#8b4305"/><stop offset="0.2" stop-color="#873806"/><stop offset="0.45" stop-color="#832d03"/><stop offset="1" stop-color="#822a03"/></linearGradient>
<rect x="2" y="398" width="150" height="149.2" fill="url(#d1g)"/>
<path d="M8.4,402.5h50.7 M7.8,404.5h99.9 M53.3,406.5h97.9 M67.6,412.5h41.7 M82.1,414.5h69.9 M107.7,415.5h44.3 M85.5,416.5h20.1 M40.3,419.5h84.5 M19.6,420.5h75.9 M39.7,423.5h84.0 M3.7,426.5h94.7 M101.7,427.5h49.4 M89.5,432.5h62.5 M77.6,435.5h28.6 M48.1,440.5h83.8 M86.1,448.5h65.9 M49.4,453.5h20.1 M118.7,458.5h33.3 M49.8,460.5h25.9 M64.2,463.5h40.7 M104.0,466.5h42.3 M2.3,468.5h35.6 M111.5,469.5h40.5 M95.7,474.5h51.9 M6.6,480.5h31.9 M26.0,481.5h23.9 M72.9,482.5h79.1 M45.2,483.5h53.3 M99.2,489.5h38.5 M60.3,494.5h24.0 M64.5,495.5h58.2 M67.7,497.5h59.3 M67.2,504.5h73.8 M118.9,505.5h33.1 M54.3,507.5h40.9 M4.0,508.5h39.7 M83.4,510.5h40.0 M24.7,511.5h74.2 M59.6,515.5h92.4 M88.5,516.5h40.1 M40.2,517.5h27.4 M2.0,520.5h24.8 M51.3,521.5h68.1 M74.2,524.5h77.8 M102.8,525.5h49.2 M75.8,527.5h60.6 M91.7,528.5h60.3 M34.7,537.5h38.4 M65.9,538.5h55.4 M20.4,539.5h93.5 M46.1,540.5h96.1 M50.4,541.5h84.1 M10.0,542.5h94.4 M58.7,544.5h39.9" stroke="#9a4a10" stroke-width="0.8" opacity="0.35" fill="none"/>
<rect x="160" y="398" width="150" height="149.2" fill="#b0aa08"/>
<rect x="317" y="398" width="150" height="149.2" fill="#bcae32"/>
<rect x="477.6" y="404.6" width="18.2" height="133.9" fill="url(#cb)" stroke="#604848" stroke-width="0.7"/>
<text x="475.6" y="397.5" class="cb">2.0V</text>
<text x="475.6" y="554.8" class="cb">0.0V</text>
<text x="9.5" y="421.4" class="wd">ITO</text>
<text x="9.5" y="435.8" class="wd" textLength="67.5" lengthAdjust="spacingAndGlyphs">WF=4.70 eV</text>
<text x="166.6" y="421.4" class="wd2">ITO/ZnO</text>
<text x="166.6" y="435.8" class="wd2" textLength="65.8" lengthAdjust="spacingAndGlyphs">WF=4.30 eV</text>
<text x="323.9" y="421.4" class="wd2" textLength="118.7" lengthAdjust="spacingAndGlyphs">ITO/ZnO/PF<tspan class="sub" dy="2.2">EO</tspan><tspan dy="-2.2">SO</tspan><tspan class="sub" dy="2.2">3</tspan><tspan dy="-2.2">Na</tspan></text>
<text x="323.9" y="435.2" class="wd2" textLength="67.2" lengthAdjust="spacingAndGlyphs">WF=4.17 eV</text>
</svg>
</body></html>
